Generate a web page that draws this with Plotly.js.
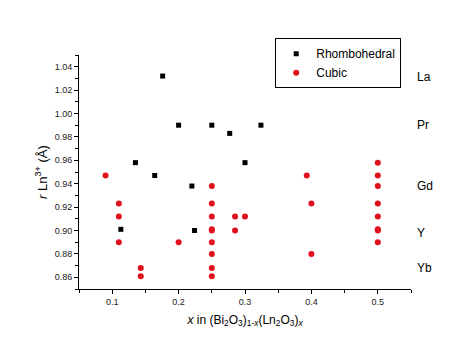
<!DOCTYPE html>
<html>
<head>
<meta charset="utf-8">
<script src="https://cdn.plot.ly/plotly-3.0.1.min.js"></script>
<style>html,body{margin:0;padding:0;background:#fff;}#chart{width:474px;height:355px;}</style>
</head>
<body>
<div id="chart"></div>
<script>
// Rhombohedral phase points
const rhombX = [0.176, 0.2, 0.25, 0.277, 0.324, 0.135, 0.3, 0.164, 0.22, 0.113, 0.224];
const rhombY = [1.032, 0.990, 0.990, 0.983, 0.990, 0.958, 0.958, 0.947, 0.938, 0.901, 0.900];
// Cubic phase points
const cubicX = [0.09, 0.11, 0.11, 0.11, 0.143, 0.143, 0.2,
  0.25, 0.25, 0.25, 0.25, 0.25, 0.25, 0.25, 0.25, 0.25,
  0.285, 0.285, 0.3, 0.393, 0.4, 0.4,
  0.5, 0.5, 0.5, 0.5, 0.5, 0.5, 0.5, 0.5];
const cubicY = [0.947, 0.923, 0.912, 0.890, 0.868, 0.861, 0.890,
  0.938, 0.923, 0.912, 0.901, 0.900, 0.890, 0.880, 0.868, 0.861,
  0.912, 0.900, 0.912, 0.947, 0.923, 0.880,
  0.958, 0.947, 0.938, 0.923, 0.912, 0.901, 0.900, 0.890];
// Right-hand element labels
const elemLabels = ['La', 'Pr', 'Gd', 'Y', 'Yb'];
const elemY = [1.031, 0.990, 0.938, 0.898, 0.868];

const font = 'Liberation Sans, Arial, sans-serif';

const traces = [
  {x: rhombX, y: rhombY, type: 'scatter', mode: 'markers', name: 'Rhombohedral',
   marker: {symbol: 'square', size: 5, color: '#000000'}},
  {x: cubicX, y: cubicY, type: 'scatter', mode: 'markers', name: 'Cubic',
   marker: {symbol: 'circle', size: 6, color: '#e0101c'}}
];

const annotations = elemLabels.map((t, i) => ({
  text: t, xref: 'paper', x: 1.013, xanchor: 'left', yref: 'y', y: elemY[i],
  yanchor: 'middle', showarrow: false, font: {family: font, size: 12, color: '#000'}
}));

const layout = {
  width: 474, height: 355,
  margin: {l: 79, r: 63, t: 55, b: 66},
  paper_bgcolor: '#fff', plot_bgcolor: '#fff',
  font: {family: font, color: '#000'},
  showlegend: true,
  legend: {x: 0.591, y: 1.072, xanchor: 'left', yanchor: 'top',
    bordercolor: '#000', borderwidth: 1, bgcolor: '#fff',
    font: {family: font, size: 12, color: '#000'}, tracegroupgap: 0},
  xaxis: {
    range: [0.05, 0.55], dtick: 0.1, tick0: 0, tickformat: '.1f',
    showline: true, linecolor: '#000', linewidth: 1, mirror: false,
    ticks: 'outside', ticklen: 4, tickcolor: '#000',
    minor: {dtick: 0.05, ticks: 'outside', ticklen: 3, tickcolor: '#000'},
    showgrid: false, zeroline: false,
    tickfont: {family: font, size: 9, color: '#222'},
    title: {text: '<i>x</i> in (Bi<sub>2</sub>O<sub>3</sub>)<sub>1-<i>x</i></sub>(Ln<sub>2</sub>O<sub>3</sub>)<sub><i>x</i></sub>',
      font: {family: font, size: 12, color: '#000'}, standoff: 9}
  },
  yaxis: {
    range: [0.85, 1.05], dtick: 0.02, tick0: 0, tickformat: '.2f',
    showline: true, linecolor: '#000', linewidth: 1, mirror: false,
    ticks: 'outside', ticklen: 4, tickcolor: '#000',
    minor: {dtick: 0.01, ticks: 'outside', ticklen: 3, tickcolor: '#000'},
    showgrid: false, zeroline: false,
    tickfont: {family: font, size: 9, color: '#222'},
    title: {text: '<i>r</i> Ln<sup>3+</sup> (Å)', font: {family: font, size: 13, color: '#000'}, standoff: 4}
  },
  annotations: annotations
};

Plotly.newPlot('chart', traces, layout, {displayModeBar: false, staticPlot: true});
</script>
</body>
</html>
